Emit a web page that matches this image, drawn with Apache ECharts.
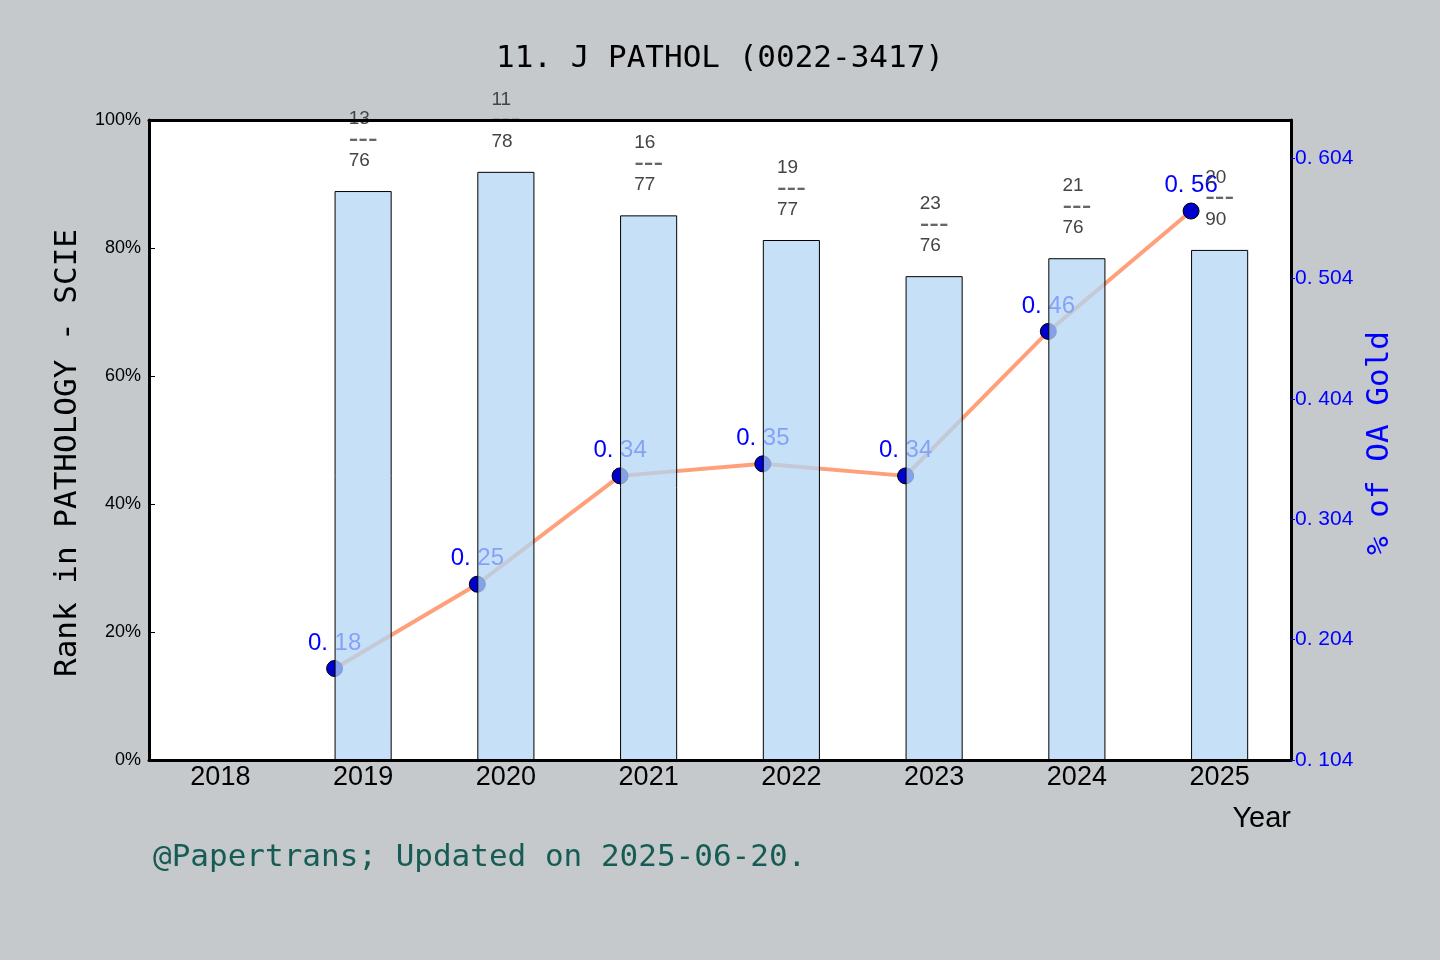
<!DOCTYPE html>
<html>
<head>
<meta charset="utf-8">
<script src="https://cdn.jsdelivr.net/npm/echarts@6/dist/echarts.min.js"></script>
<style>
  html, body { margin: 0; padding: 0; background: #c5c9cc; }
  #chart { width: 1440px; height: 960px; }
</style>
</head>
<body>
<div id="chart"></div>
<script>
// 数据
const years = ['2018', '2019', '2020', '2021', '2022', '2023', '2024', '2025'];
const rankPercent = [null, 88.9, 91.9, 85.1, 81.25, 75.6, 78.4, 79.7];
const oaGold = [null, 0.18, 0.25, 0.34, 0.35, 0.34, 0.46, 0.56];
const ranks = [null, 13, 11, 16, 19, 23, 21, 20];
const totals = [null, 76, 78, 77, 77, 76, 76, 90];
const rightTicks = { min: 0.104, max: 0.6356, interval: 0.1 };

var myChart = echarts.init(document.getElementById('chart'));

const mono = 'DejaVu Sans Mono';
const sans = 'Liberation Sans';

// 折线点落在柱子左边缘：用一根隐藏的数值轴（按年份），左右各偏移半个柱宽
const lineData = years.map((y, i) => [Number(y), oaGold[i]]);

const option = {
    animation: false,
    backgroundColor: '#c5c9cc',
    title: [
        {
            text: '11. J PATHOL (0022-3417)',
            left: 'center',
            top: 38,
            textStyle: { fontFamily: mono, fontSize: 31, fontWeight: 'normal', color: '#000' }
        },
        {
            text: '@Papertrans; Updated on 2025-06-20.',
            left: 148,
            top: 837,
            textStyle: { fontFamily: mono, fontSize: 31, fontWeight: 'normal', color: '#175c54' }
        }
    ],
    grid: {
        left: 149, right: 149, top: 120, bottom: 200,
        show: true, backgroundColor: '#fff', borderWidth: 0
    },
    xAxis: [
        {
            type: 'category',
            data: years,
            position: 'bottom',
            name: 'Year',
            nameLocation: 'end',
            nameGap: 0,
            nameTextStyle: {
                fontFamily: sans, fontSize: 29, color: '#000',
                align: 'right', verticalAlign: 'top', padding: [44, 0, 0, 0]
            },
            axisLine: { lineStyle: { color: '#000', width: 3 } },
            axisTick: { inside: true, length: 5, lineStyle: { color: '#000', width: 1 } },
            axisLabel: { fontFamily: sans, fontSize: 27, color: '#000', margin: 4 },
            z: 10
        },
        {
            type: 'category',
            data: years,
            position: 'top',
            axisLine: { lineStyle: { color: '#000', width: 3 } },
            axisTick: { show: false },
            axisLabel: { show: false },
            z: 10
        },
        {
            type: 'value',
            min: 2017.7,
            max: 2025.7,
            show: false
        }
    ],
    yAxis: [
        {
            type: 'value',
            min: 0, max: 100, interval: 20,
            name: 'Rank in PATHOLOGY - SCIE',
            nameLocation: 'middle',
            nameGap: 66,
            nameTextStyle: { fontFamily: mono, fontSize: 31, color: '#000', padding: [0, 26, 0, 0] },
            axisLine: { show: true, lineStyle: { color: '#000', width: 3 } },
            axisTick: { show: true, inside: true, length: 6, lineStyle: { color: '#000' } },
            axisLabel: { formatter: '{value}%', fontFamily: sans, fontSize: 18, color: '#000', margin: 8 },
            splitLine: { show: false },
            z: 10
        },
        {
            type: 'value',
            position: 'right',
            min: rightTicks.min, max: rightTicks.max, interval: rightTicks.interval,
            name: '% of OA Gold',
            nameLocation: 'middle',
            nameGap: 67,
            nameTextStyle: { fontFamily: mono, fontSize: 31, color: '#0000ff', padding: [0, 6, 0, 0] },
            axisLine: { show: true, lineStyle: { color: '#000', width: 3 } },
            axisTick: { show: true, length: 4, lineStyle: { color: '#0000ff' } },
            axisLabel: {
                showMaxLabel: false,
                formatter: v => v.toFixed(3).replace('.', '. '),
                fontFamily: sans, fontSize: 21, color: '#0000ff', margin: 4
            },
            splitLine: { show: false },
            z: 10
        }
    ],
    series: [
        {
            name: '% of OA Gold',
            type: 'line',
            xAxisIndex: 2,
            yAxisIndex: 1,
            data: lineData,
            z: 2,
            symbol: 'circle',
            symbolSize: 16,
            lineStyle: { color: '#ffa07a', width: 4 },
            itemStyle: { color: '#0000cd', borderColor: '#000', borderWidth: 1 },
            label: {
                show: true,
                position: 'top',
                distance: 5,
                formatter: p => p.value[1] == null ? '' : p.value[1].toFixed(2).replace('.', '. '),
                fontFamily: sans, fontSize: 24, color: '#0000ff'
            }
        },
        {
            name: 'Rank',
            type: 'bar',
            xAxisIndex: 0,
            yAxisIndex: 0,
            data: rankPercent,
            z: 3,
            barWidth: '40%',
            itemStyle: { color: 'rgba(178,214,244,0.75)', borderColor: '#000', borderWidth: 1 },
            label: {
                show: true,
                position: 'top',
                distance: 20,
                formatter: p => ranks[p.dataIndex] == null ? '' :
                    '{n|' + ranks[p.dataIndex] + '}\n{d|---}\n{n|' + totals[p.dataIndex] + '}',
                rich: {
                    n: { fontFamily: sans, fontSize: 19, color: '#444', lineHeight: 21, align: 'left' },
                    d: { fontFamily: sans, fontSize: 29, color: '#666', lineHeight: 21, align: 'left' }
                }
            }
        }
    ]
};

myChart.setOption(option);

window.addEventListener('resize', function() {
    myChart.resize();
});
</script>
</body>
</html>
